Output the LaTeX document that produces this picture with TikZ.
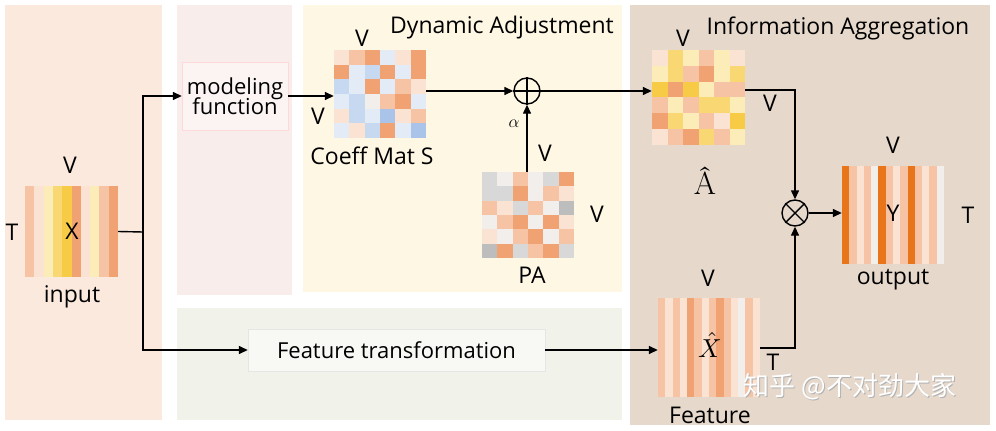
\documentclass[tikz,border=0pt]{standalone}
\usepackage{graphicx}
\usepackage{fontspec}
\setmainfont{Open Sans}
\newfontfamily\cjk{Noto Sans CJK SC}
\newfontfamily\lmr{Latin Modern Roman}
\usetikzlibrary{arrows.meta}
\definecolor{pIn}{HTML}{FCE9DD}\definecolor{pMod}{HTML}{F8EDEB}
\definecolor{pDyn}{HTML}{FEF7E4}\definecolor{pFt}{HTML}{F1F3EA}
\definecolor{pInf}{HTML}{E6D9CB}
\definecolor{oa}{HTML}{FBE3D3}\definecolor{ob}{HTML}{F6C3A4}\definecolor{oc}{HTML}{F1A273}\definecolor{od}{HTML}{E8751A}
\definecolor{ba}{HTML}{E2EBF6}\definecolor{bb}{HTML}{C6D9F0}\definecolor{bc}{HTML}{A9C4E8}
\definecolor{wa}{HTML}{F2EEEC}\definecolor{ga}{HTML}{D8D8D8}\definecolor{gb}{HTML}{BDBDBD}
\definecolor{ya}{HTML}{FCECB8}\definecolor{yb}{HTML}{F9D873}\definecolor{yc}{HTML}{F7CB45}
\newcommand\mgrid[6]{%
 \foreach \c [count=\k from 0] in {#6}{%
  \pgfmathtruncatemacro\cc{mod(\k,#5)}%
  \pgfmathtruncatemacro\rr{floor(\k/#5)}%
  \fill[\c] ({#1+\cc*#3},{#2+\rr*#4}) rectangle ++(#3,#4);}}
\begin{document}
\begin{tikzpicture}[x=1pt,y=-1pt,
  lbl/.style={font=\fontsize{23}{26}\selectfont,inner sep=0pt},
  procbox/.style={draw=red!15,fill=white!40!pMod,inner sep=2pt,font=\fontsize{22}{24}\selectfont,align=center},
  mat/.style={inner sep=0pt,draw=none},
  arr/.style={-{Triangle[length=9pt,width=8pt]},line width=1.4pt},
  ln/.style={line width=1.4pt},
  opc/.style={circle,draw,line width=1.4pt,minimum size=26pt,inner sep=0pt}]
\useasboundingbox (0,0) rectangle (996,431);
\fill[white] (0,0) rectangle (996,431);
% panels
\fill[pIn] (5,5) rectangle (162,420);
\fill[pMod] (177,5) rectangle (292,295);
\fill[pDyn] (303,5) rectangle (622,292);
\fill[pFt] (177,308) rectangle (622,420);
\fill[pInf] (630,5) rectangle (990,425);
\node[lbl] at (502,28) {Dynamic Adjustment};
\node[lbl] at (838,28) {Information Aggregation};
% input X
\foreach \c [count=\k from 0] in {ob,oa,ya,yb,yc,oc,oa,ya,ob,oc}{\fill[\c] ({25+\k*9.3},186) rectangle ++(9.3,91);}
\node[mat,minimum width=93pt,minimum height=91pt] (X) at (71.5,231.5) {};
\node[lbl] at (72,231) {X};
\node[lbl] at (70,165) {V};
\node[lbl] at (12,232) {T};
\node[lbl] at (72,297) {input};
% modeling
\node[procbox,minimum width=106pt,minimum height=68pt] (M) at (235,96) {modeling\\[-4pt]function};
% Coeff S
\mgrid{334}{50}{15.33}{14.67}{6}{oa,ob,oc,ba,oa,oc, oc,ba,bb,oc,ba,oc, bb,ba,oc,ba,ob,oa, ba,bb,wa,ob,oc,ba, oa,bb,ba,bc,oa,ob, ba,oa,bb,oc,ba,bc}
\node[mat,minimum width=92pt,minimum height=88pt] (S) at (380,94) {};
\node[lbl] at (362,38) {V};
\node[lbl] at (318,116) {V};
\node[lbl] at (372,156) {Coeff Mat S};
% oplus
\node[opc] (P) at (527,91) {};
\draw[line width=1.4pt] (P.north)--(P.south) (P.west)--(P.east);
% PA
\mgrid{482}{172}{15.33}{14.33}{6}{ga,wa,ob,wa,ga,oc, ga,ga,oc,wa,ob,oa, ob,oa,ga,ob,wa,gb, wa,ob,oc,wa,oc,oa, oa,wa,ob,oc,wa,ob, gb,oc,ga,ob,oc,ga}
\node[mat,minimum width=92pt,minimum height=86pt] (PA) at (528,215) {};
\node[lbl] at (545,153) {V};
\node[lbl] at (597,214) {V};
\node[lbl] at (532,275) {PA};
\node[inner sep=0pt,font=\lmr\fontsize{18}{20}\selectfont] at (514,124) {$\alpha$};
% A hat
\mgrid{652}{50}{15.5}{15.8}{6}{oa,yb,ya,ob,ya,oa, ya,yb,ob,oc,ya,yb, yc,oc,yc,ya,ob,ob, ob,ya,ob,yb,yb,ya, oc,yb,ya,ob,oa,yc, oa,ob,oc,yb,ob,ya}
\node[mat,minimum width=93pt,minimum height=95pt] (A) at (698.5,97.5) {};
\node[lbl] at (683,38) {V};
\node[lbl] at (770,103) {V};
\node[inner sep=0pt,font=\lmr\fontsize{32}{34}\selectfont] at (705,181) {Â};
% otimes
\node[opc] (O) at (795,213) {};
\draw[line width=1.4pt] (O.north east)--(O.south west) (O.north west)--(O.south east);
% output Y
\foreach \c [count=\k from 0] in {od,ob,oa,ob,wa,od,ob,oa,ob,od,ob,oa,ob,wa}{\fill[\c] ({842+\k*7.29},166) rectangle ++(7.29,98);}
\node[mat,minimum width=102pt,minimum height=98pt] (Y) at (893,215) {};
\node[lbl] at (893,213) {Y};
\node[lbl] at (893,145) {V};
\node[lbl] at (968,215) {T};
\node[lbl] at (893,280) {output};
% feature transformation
\node[draw=black!10,fill=white!50!pFt,minimum width=297pt,minimum height=42pt,font=\fontsize{22}{24}\selectfont] (F) at (396.5,350) {Feature transformation};
% Feature Xhat
\foreach \c [count=\k from 0] in {ob,oa,ob,oa,oc,ob,oa,ob,oc,ob,oa,wa,ob,oa}{\fill[\c] ({658+\k*7.29},298) rectangle ++(7.29,99);}
\node[mat,minimum width=102pt,minimum height=99pt] (XH) at (709,347.5) {};
\node[inner sep=0pt] at (710,345) {\scalebox{2.6}{$\hat{X}$}};
\node[lbl] at (708,278) {V};
\node[lbl] at (773,362) {T};
\node[lbl] at (710,415) {Feature};
% connectors
\coordinate (J) at (143,232);
\draw[ln] (X.east) -- (J);
\draw[arr] (J) |- (M.west);
\draw[arr] (J) |- (F.west);
\draw[arr] (M.east) -- (S.west |- M.east);
\draw[arr] (S.east |- P) -- (P.west);
\draw[arr] (PA.north -| P) -- (P.south);
\draw[arr] (P.east) -- (A.west |- P);
\draw[arr] (A.east |- 0,90) -| (O.north);
\draw[arr] (F.east) -- (XH.west |- F.east);
\draw[arr] (XH.east |- 0,348) -| (O.south);
\draw[arr] (O.east) -- (Y.west |- O);
% watermark
\node[font=\cjk\fontsize{26}{28}\selectfont,text=black!30] (W1) at (851,388) {知乎 @不对劲大家};
\node[font=\cjk\fontsize{26}{28}\selectfont,text=white] (W2) at (850,387) {知乎 @不对劲大家};
\end{tikzpicture}
\end{document}
